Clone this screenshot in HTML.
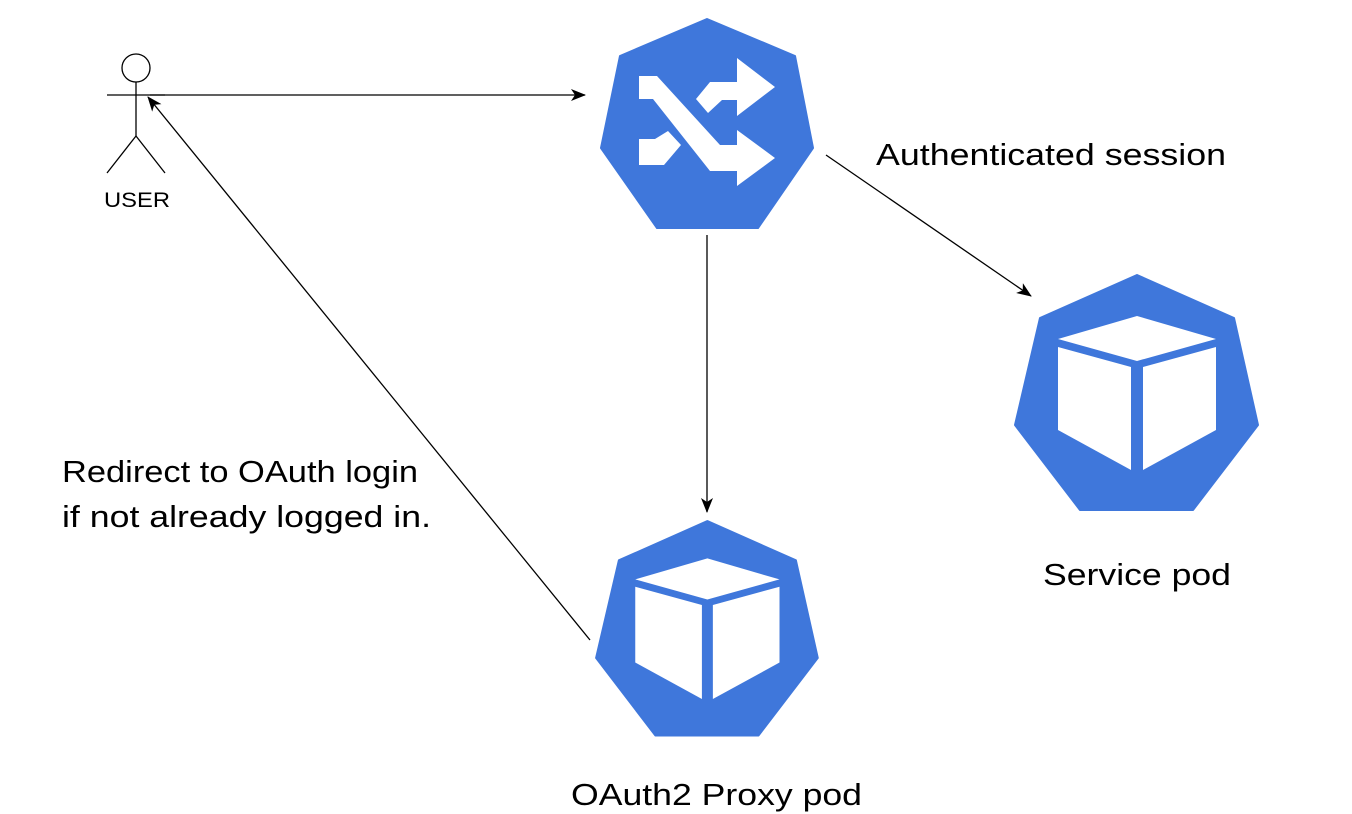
<!DOCTYPE html>
<html><head><style>
html,body{margin:0;padding:0;background:#fff;}
svg{display:block;}
text{font-family:"Liberation Sans",Arial,sans-serif;fill:#000;}
</style></head><body>
<svg width="1352" height="814" viewBox="0 0 1352 814" xmlns="http://www.w3.org/2000/svg">
<defs>
<marker id="ar" markerWidth="15" markerHeight="12" refX="14" refY="6" orient="auto" markerUnits="userSpaceOnUse">
<path d="M0,0 L15,6 L0,12 L4,6 Z" fill="#000"/>
</marker>
<g id="pod">
<path d="M122,0 L219,43 L243,150 L178,235 L65,235 L0,150 L25,43 Z" fill="#3f77db" stroke="#3f77db" stroke-width="2" stroke-linejoin="round"/>
<path d="M122,41 L201,64 L122,86 L43,64 Z" fill="#fff"/>
<path d="M43,72 L116,92 L116,195 L43,155 Z" fill="#fff"/>
<path d="M128,92 L201,72 L201,155 L128,195 Z" fill="#fff"/>
</g>
</defs>

<!-- ingress -->
<path d="M707,19 L795,56 L813,148 L758,228 L657,228 L601,148 L620,56 Z" fill="#3f77db" stroke="#3f77db" stroke-width="2" stroke-linejoin="round"/>
<path d="M639,76 L657,76 L720,145 L737,145 L737,130 L775,158 L737,186 L737,171 L710,171 L653,99 L639,99 Z" fill="#fff"/>
<path d="M639,139 L655,139 L668,131 L681,145 L664,165 L639,165 Z" fill="#fff"/>
<path d="M696,99 L710,82 L737,82 L737,58 L775,87 L737,116 L737,100 L722,100 L708,113 Z" fill="#fff"/>

<!-- pods -->
<use href="#pod" transform="translate(1015,275)"/>
<use href="#pod" transform="translate(596,521) scale(0.913)"/>

<!-- user -->
<circle cx="136" cy="68" r="14" fill="#fff" stroke="#000" stroke-width="1.3"/>
<line x1="136" y1="82" x2="136" y2="136" stroke="#000" stroke-width="1.3"/>
<line x1="107" y1="95" x2="165" y2="95" stroke="#000" stroke-width="1.3"/>
<line x1="136" y1="136" x2="107" y2="173" stroke="#000" stroke-width="1.3"/>
<line x1="136" y1="136" x2="165" y2="173" stroke="#000" stroke-width="1.3"/>
<text x="104" y="207" font-size="21" textLength="66" lengthAdjust="spacingAndGlyphs">USER</text>

<!-- connectors -->
<line x1="150" y1="95" x2="585" y2="95" stroke="#000" stroke-width="1.3" marker-end="url(#ar)"/>
<line x1="590" y1="640" x2="148" y2="97" stroke="#000" stroke-width="1.3" marker-end="url(#ar)"/>
<line x1="707" y1="235" x2="707" y2="512" stroke="#000" stroke-width="1.3" marker-end="url(#ar)"/>
<line x1="826" y1="155" x2="1031" y2="296" stroke="#000" stroke-width="1.3" marker-end="url(#ar)"/>

<!-- labels -->
<text x="876" y="165" font-size="31" textLength="350" lengthAdjust="spacingAndGlyphs">Authenticated session</text>
<text x="1043" y="585" font-size="31" textLength="188" lengthAdjust="spacingAndGlyphs">Service pod</text>
<text x="571" y="805" font-size="31" textLength="291" lengthAdjust="spacingAndGlyphs">OAuth2 Proxy pod</text>
<text x="62" y="482" font-size="31" textLength="356" lengthAdjust="spacingAndGlyphs">Redirect to OAuth login</text>
<text x="62" y="527" font-size="31" textLength="369" lengthAdjust="spacingAndGlyphs">if not already logged in.</text>
</svg>
</body></html>
